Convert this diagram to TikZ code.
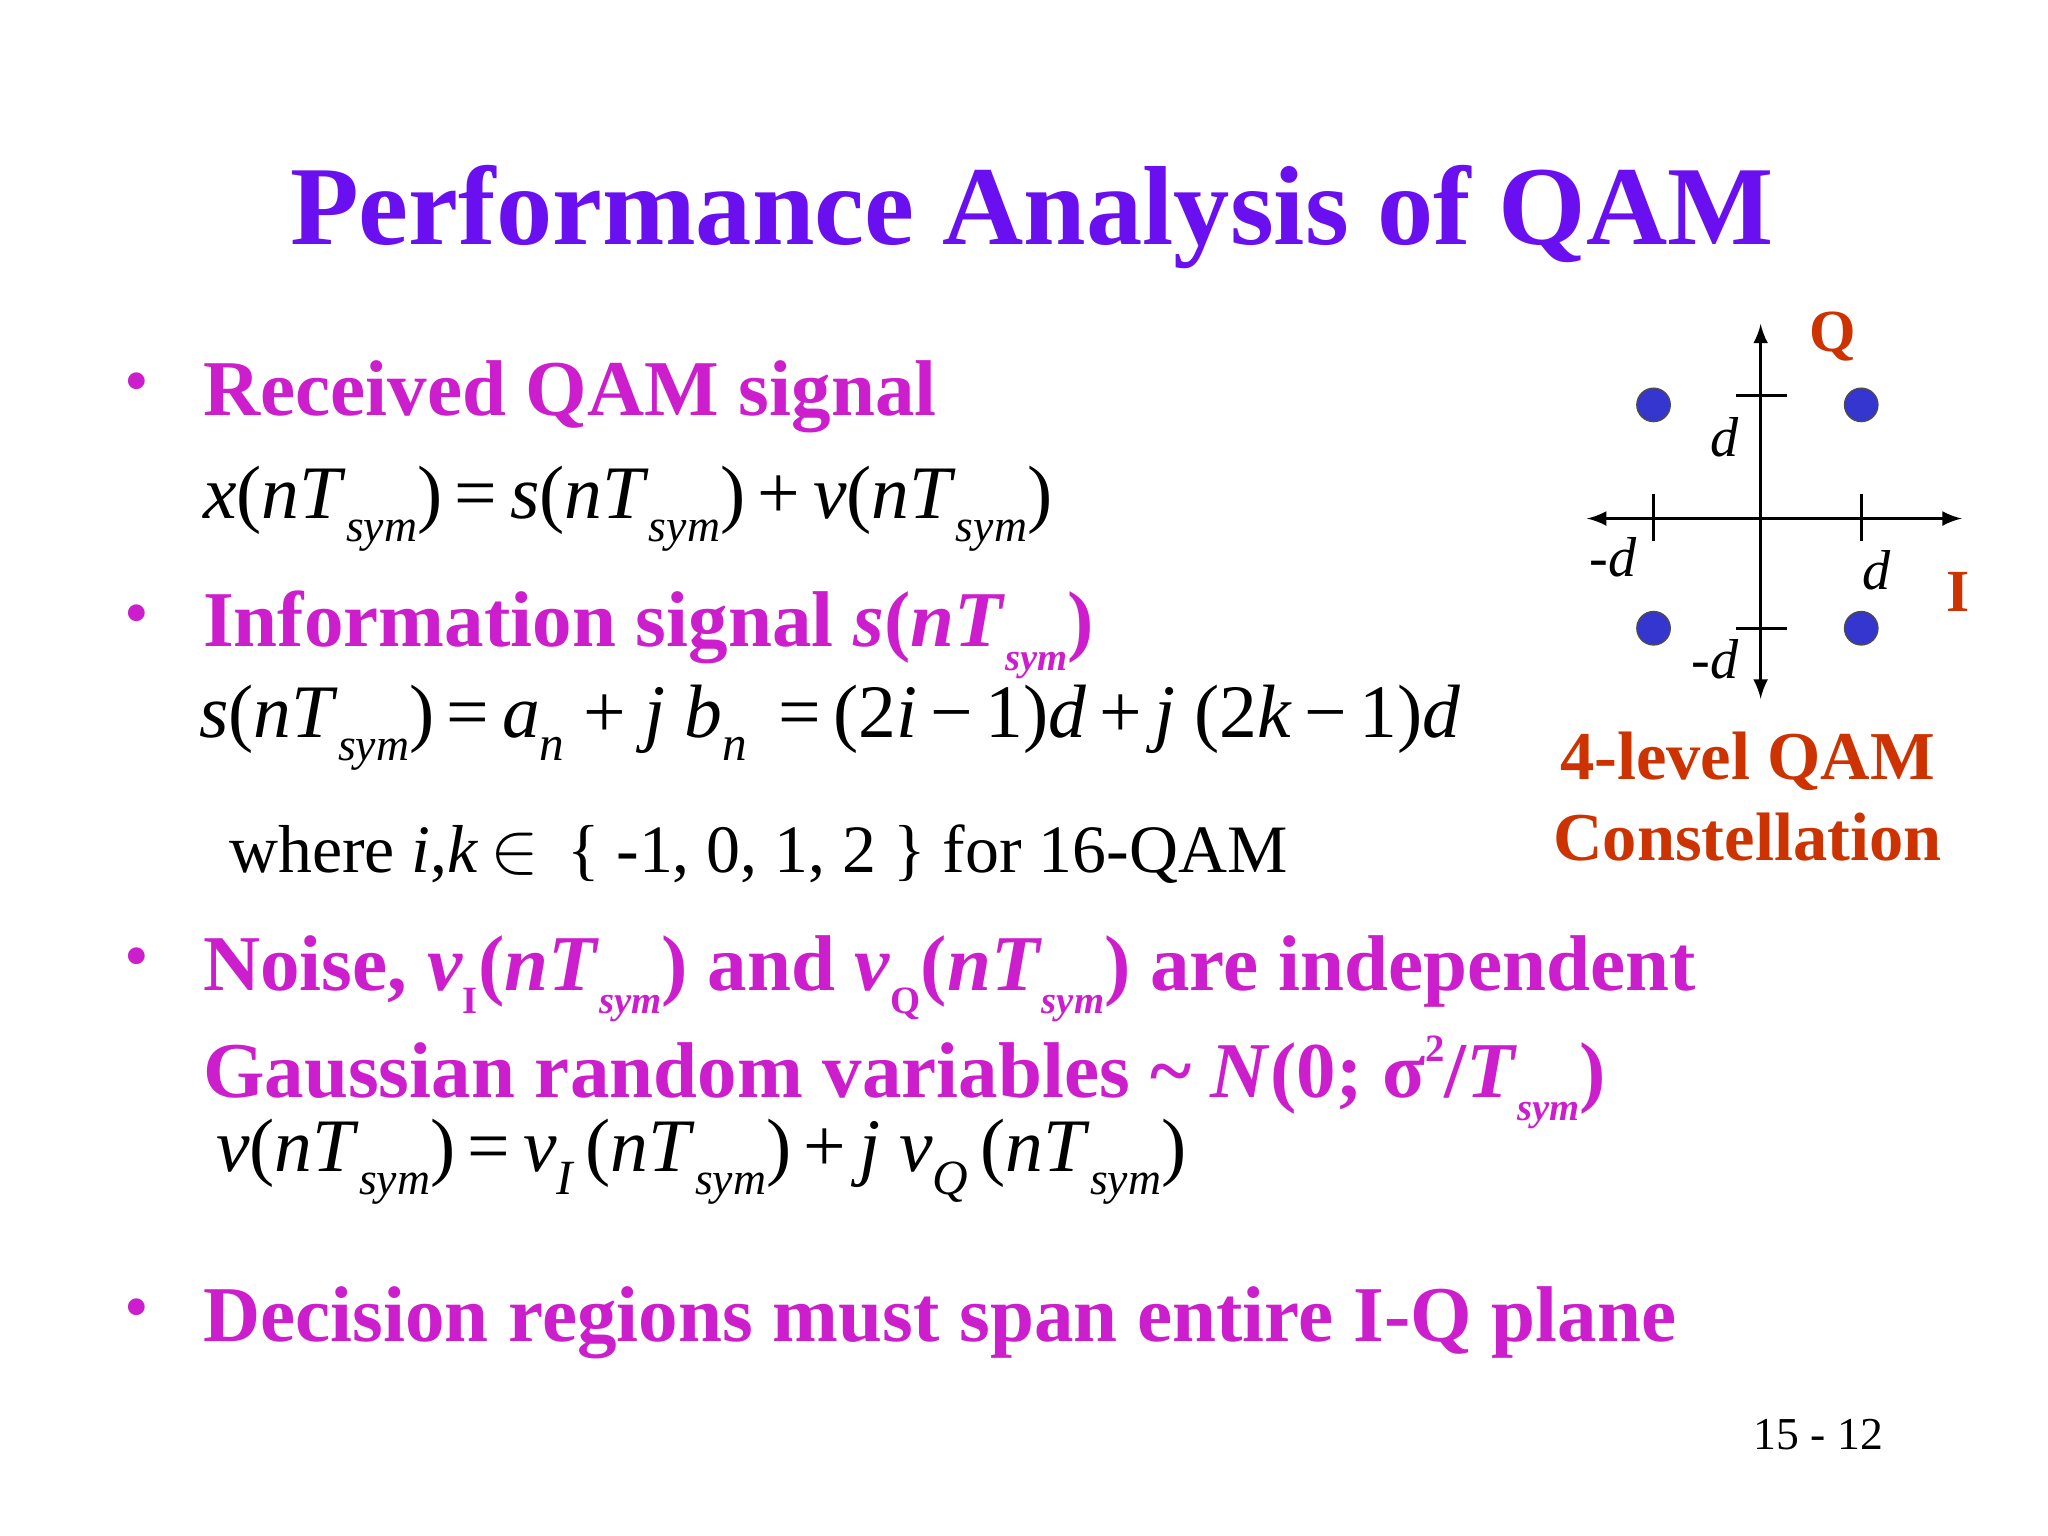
\documentclass[tikz,border=0pt]{standalone}
\usepackage{fontspec}
\setmainfont{Liberation Serif}
\definecolor{ttl}{HTML}{6A10F0}
\definecolor{mag}{HTML}{CC1ECC}
\definecolor{org}{HTML}{CC3300}
\definecolor{dotc}{HTML}{3535D0}
\newcommand{\sy}{\raisebox{-0.3em}{\fontsize{13}{13}\selectfont\itshape sym}}
\newcommand{\bsy}{\raisebox{-0.3em}{\fontsize{11}{11}\selectfont\bfseries\itshape sym}}
\newcommand{\eqf}{\fontsize{21.5}{26}\selectfont}
\begin{document}
\begin{tikzpicture}[x=0.013061cm,y=-0.013061cm,
  bul/.style={anchor=base west,inner sep=0,text=mag,font=\fontsize{22.5}{27}\selectfont\bfseries},
  eqn/.style={anchor=base west,inner sep=0,font=\eqf},
  lab/.style={font=\fontsize{16}{19}\selectfont\itshape},
  tick/.style={line width=0.8pt},
  dot/.style={circle,draw=black!70,fill=dotc,minimum size=9.5pt,inner sep=0,line width=0.4pt}]
\useasboundingbox (0,0) rectangle (1568,1176);
\node[anchor=base,text=ttl,font=\fontsize{32}{38}\selectfont\bfseries] (title) at (790,187) {Performance Analysis of QAM};
% bullets
\foreach \yy/\nm in {318/b1,495/b2,758/b3,1027/b4}
  \node[anchor=base,text=mag,font=\fontsize{20}{20}\selectfont] (\nm) at (105,\yy-8) {•};
\node[bul] (t1) at (155,318) {Received QAM signal};
\node[eqn] (e1) at (155,397) {\textit{x}(\textit{nT}\sy)\,=\,\textit{s}(\textit{nT}\sy)\,+\,\textit{v}(\textit{nT}\sy)};
\node[bul] (t2) at (155,495) {Information signal \textit{s}(\textit{nT}\bsy)};
\node[eqn] (e2) at (152,565) {\textit{s}(\textit{nT}\sy)\,=\,\textit{a}\raisebox{-0.3em}{\fontsize{14}{14}\selectfont\itshape n} + \textit{j b}\raisebox{-0.3em}{\fontsize{14}{14}\selectfont\itshape n} \,=\,(2\textit{i}\,−\,1)\textit{d}\,+\,\textit{j} (2\textit{k}\,−\,1)\textit{d}};
\node[anchor=base west,inner sep=0,font=\fontsize{19.3}{24}\selectfont] (wh) at (175,668) {where \textit{i},\textit{k}\,$\in$\, \{ -1, 0, 1, 2 \} for 16-QAM};
\node[bul] (t3) at (155,758) {Noise, \textit{v}\raisebox{-0.3em}{\fontsize{11}{11}\selectfont I}(\textit{nT}\bsy) and \textit{v}\raisebox{-0.3em}{\fontsize{11}{11}\selectfont Q}(\textit{nT}\bsy) are independent};
\node[bul] (t3b) at (155,840) {Gaussian random variables \textasciitilde\ \textit{N}(0; σ\raisebox{0.45em}{\fontsize{11}{11}\selectfont 2}/\textit{T}\bsy)};
\node[eqn] (e3) at (165,897) {\textit{v}(\textit{nT}\sy)\,=\,\textit{v}\raisebox{-0.3em}{\fontsize{14}{14}\selectfont\itshape I}\,(\textit{nT}\sy)\,+\,\textit{j v}\raisebox{-0.3em}{\fontsize{14}{14}\selectfont\itshape Q}\,(\textit{nT}\sy)};
\node[bul] (t4) at (155,1027) {Decision regions must span entire I-Q plane};
\node[anchor=base,font=\fontsize{13}{16}\selectfont] (pg) at (1392,1110) {15 - 12};
% constellation
\coordinate (xl) at (1215,397); \coordinate (xr) at (1502,397);
\coordinate (yt) at (1348,248); \coordinate (yb) at (1348,535);
\draw[line width=0.9pt,<->,>=latex] (xl) -- (xr);
\draw[line width=0.9pt,<->,>=latex] (yb) -- (yt);
\foreach \xx in {1266,1425} \draw[tick] (\xx,378) -- (\xx,414);
\foreach \yy in {303,481} \draw[tick] (1329,\yy) -- (1368,\yy);
\node[dot] (p1) at (1266,310) {};
\node[dot] (p2) at (1425,310) {};
\node[dot] (p3) at (1266,481) {};
\node[dot] (p4) at (1425,481) {};
\node[lab] (l1) at (1320,335) {d};
\node[lab] (l2) at (1235,427) {-d};
\node[lab] (l3) at (1437,437) {d};
\node[lab] (l4) at (1313,505) {-d};
\node[text=org,font=\fontsize{17}{20}\selectfont\bfseries] (q) at (1403,258) {Q};
\node[text=org,font=\fontsize{17}{20}\selectfont\bfseries] (i) at (1499,453) {I};
\node[anchor=base,text=org,font=\fontsize{19.5}{26}\selectfont\bfseries] (cap1) at (1338,597) {4-level QAM};
\node[anchor=base,text=org,font=\fontsize{19.5}{26}\selectfont\bfseries] (cap2) at (1338,659) {Constellation};
\end{tikzpicture}
\end{document}
